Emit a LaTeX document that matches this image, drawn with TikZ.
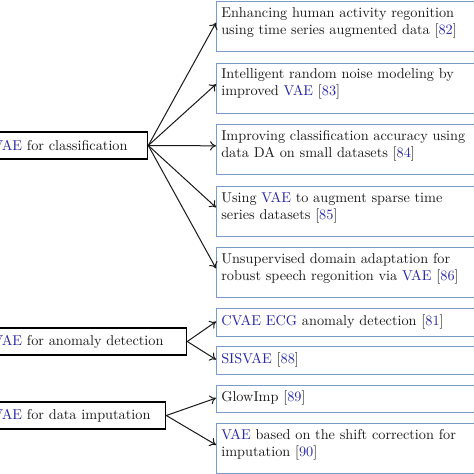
\documentclass[tikz,border=0pt]{standalone}
\usetikzlibrary{arrows.meta}
\definecolor{boxblue}{RGB}{122,156,200}
\definecolor{lnk}{RGB}{40,40,165}
\definecolor{ink}{RGB}{25,25,25}
\newcommand{\lk}[1]{\textcolor{lnk}{#1}}
\newcommand{\cit}[1]{[\textcolor{lnk}{#1}]}
\begin{document}
\begin{tikzpicture}[x=0.70pt,y=-0.70pt,
  rb/.style={draw=boxblue, line width=1pt, anchor=north west, minimum width=200pt, inner sep=0pt},
  tall/.style={minimum height=35pt},
  short/.style={minimum height=19.25pt},
  txt/.style={anchor=north west, inner xsep=3.5pt, inner ysep=4.3pt, align=left, text=ink},
  lb/.style={draw=black, line width=0.9pt, anchor=west, inner xsep=3.5pt, inner ysep=0pt, minimum height=18.9pt, align=left, text=ink},
  arr/.style={-{To[length=4.2pt,width=6.5pt]}, line width=0.7pt, draw=ink}]
\useasboundingbox (0,0) rectangle (474,474);
\clip (0,0) rectangle (474,474);
\fill[white] (0,0) rectangle (474,474);
% right boxes
\node[rb,tall] (b1) at (216,1) {};
\node[txt] (t1) at (b1.north west) {Enhancing human activity regonition\\using time series augmented data \cit{82}};
\node[rb,tall] (b2) at (216,62.5) {};
\node[txt] (t2) at (b2.north west) {Intelligent random noise modeling by\\improved \lk{VAE} \cit{83}};
\node[rb,tall] (b3) at (216,124) {};
\node[txt] (t3) at (b3.north west) {Improving classification accuracy using\\data DA on small datasets \cit{84}};
\node[rb,tall] (b4) at (216,185.5) {};
\node[txt] (t4) at (b4.north west) {Using \lk{VAE} to augment sparse time\\series datasets \cit{85}};
\node[rb,tall] (b5) at (216,246.5) {};
\node[txt] (t5) at (b5.north west) {Unsupervised domain adaptation for\\robust speech regonition via \lk{VAE} \cit{86}};
\node[rb,short] (b6) at (216,308) {};
\node[txt] (t6) at (b6.north west) {\lk{CVAE ECG} anomaly detection \cit{81}};
\node[rb,short] (b7) at (216,346) {};
\node[txt] (t7) at (b7.north west) {\lk{SISVAE} \cit{88}};
\node[rb,short] (b8) at (216,384.5) {};
\node[txt] (t8) at (b8.north west) {GlowImp \cit{89}};
\node[rb,tall] (b9) at (216,423) {};
\node[txt] (t9) at (b9.north west) {\lk{VAE} based on the shift correction for\\imputation \cit{90}};
% left boxes
\node[lb, text width=105pt] (c1) at (-13,145.5) {\lk{VAE} for classification};
\node[lb, text width=132.3pt] (c2) at (-13,341.5) {\lk{VAE} for anomaly detection};
\node[lb, text width=117.6pt] (c3) at (-13,415.5) {\lk{VAE} for data imputation};
% connectors
\foreach \t in {t1,t2,t3,t4,t5} \draw[arr] (c1.east) -- (\t.west);
\foreach \t in {t6,t7} \draw[arr] (c2.east) -- (\t.west);
\foreach \t in {t8,t9} \draw[arr] (c3.east) -- (\t.west);
\end{tikzpicture}
\end{document}
